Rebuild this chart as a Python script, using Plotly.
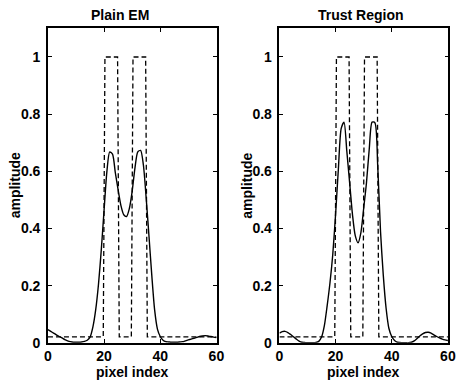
import plotly.graph_objects as go

# ---- data ----
pixel = list(range(0, 61))

plain_em = [0.046, 0.040, 0.034, 0.028, 0.022, 0.017, 0.011, 0.007, 0.004, 0.002,
            0.002, 0.002, 0.003, 0.005, 0.009, 0.020, 0.055, 0.115, 0.205, 0.325,
            0.465, 0.600, 0.668, 0.660, 0.595, 0.535, 0.480, 0.448, 0.442, 0.470,
            0.530, 0.612, 0.668, 0.673, 0.622, 0.505, 0.372, 0.235, 0.115, 0.048,
            0.022, 0.009, 0.004, 0.003, 0.002, 0.002, 0.002, 0.003, 0.004, 0.007,
            0.010, 0.013, 0.016, 0.019, 0.022, 0.024, 0.025, 0.024, 0.022, 0.020,
            0.018]

trust_region = [0.034, 0.039, 0.040, 0.036, 0.029, 0.021, 0.013, 0.006, 0.002, 0.001,
                0.000, 0.000, 0.000, 0.001, 0.005, 0.020, 0.060, 0.130, 0.210, 0.310,
                0.450, 0.610, 0.750, 0.772, 0.670, 0.560, 0.450, 0.375, 0.350, 0.385,
                0.470, 0.560, 0.680, 0.772, 0.770, 0.620, 0.390, 0.235, 0.120, 0.050,
                0.022, 0.008, 0.002, 0.001, 0.000, 0.000, 0.000, 0.002, 0.007, 0.015,
                0.024, 0.031, 0.036, 0.037, 0.034, 0.028, 0.022, 0.017, 0.013, 0.010,
                0.008]

true_x = [0, 19.7, 20.3, 24.8, 25.4, 29.7, 30.3, 34.8, 35.4, 60]
true_y = [0.021, 0.021, 1.0, 1.0, 0.021, 0.021, 1.0, 1.0, 0.021, 0.021]

titles = ["Plain EM", "Trust Region"]
estimates = [plain_em, trust_region]
x_ticks = [0, 20, 40, 60]
y_ticks = [0, 0.2, 0.4, 0.6, 0.8, 1]
y_tick_text = ["0", "0.2", "0.4", "0.6", "0.8", "1"]

# ---- layout geometry (pixels) ----
W, H = 474, 389
panels_px = [(45, 218), (282, 455)]
top_px, bot_px = 29, 350
title_cx = [118.5, 365]

FONT = "Liberation Sans, Arial, Helvetica, sans-serif"

fig = go.Figure()
layout = dict(
    width=W, height=H,
    margin=dict(l=0, r=0, t=0, b=0),
    paper_bgcolor="white", plot_bgcolor="white",
    showlegend=False,
    annotations=[],
)

for i, (est, title) in enumerate(zip(estimates, titles)):
    xa = "x" if i == 0 else f"x{i+1}"
    ya = "y" if i == 0 else f"y{i+1}"
    fig.add_trace(go.Scatter(x=true_x, y=true_y, mode="lines", xaxis=xa, yaxis=ya,
                             line=dict(color="black", width=1.3, dash="5px,3px")))
    fig.add_trace(go.Scatter(x=pixel, y=est, mode="lines", xaxis=xa, yaxis=ya,
                             line=dict(color="black", width=1.4, shape="spline", smoothing=0.7)))
    x0, x1 = panels_px[i]
    axis_common = dict(showline=True, linecolor="black", linewidth=1.5, mirror="ticks",
                       ticks="inside", ticklen=4, tickwidth=1.2, tickcolor="black",
                       showgrid=False, zeroline=False,
                       tickfont=dict(family=FONT, size=14, color="black", weight="bold"))
    layout["xaxis" if i == 0 else f"xaxis{i+1}"] = dict(
        domain=[x0 / W, x1 / W], range=[0, 60.2], tickvals=x_ticks,
        anchor=ya, ticklabelstandoff=0, **axis_common)
    layout["yaxis" if i == 0 else f"yaxis{i+1}"] = dict(
        domain=[(H - bot_px) / H, (H - top_px) / H], range=[0, 1.1],
        tickvals=y_ticks, ticktext=y_tick_text, anchor=xa, ticklabelstandoff=3,
        **axis_common)
    layout["annotations"] += [
        dict(text=title, x=title_cx[i] / W, y=(H - 15) / H, xref="paper", yref="paper",
             xanchor="center", yanchor="middle", showarrow=False,
             font=dict(family=FONT, size=14, color="black", weight="bold")),
        dict(text="pixel index", x=(x0 + x1) / 2 / W, y=(H - 380) / H, xref="paper", yref="paper",
             xanchor="center", yanchor="middle", showarrow=False,
             font=dict(family=FONT, size=14, color="black", weight="bold")),
        dict(text="amplitude", x=(x0 - 34) / W, y=(H - 189.5) / H, xref="paper", yref="paper",
             xanchor="center", yanchor="middle", showarrow=False, textangle=-90,
             font=dict(family=FONT, size=14, color="black", weight="bold")),
    ]

fig.update_layout(**layout)
fig.write_html("out.html")
